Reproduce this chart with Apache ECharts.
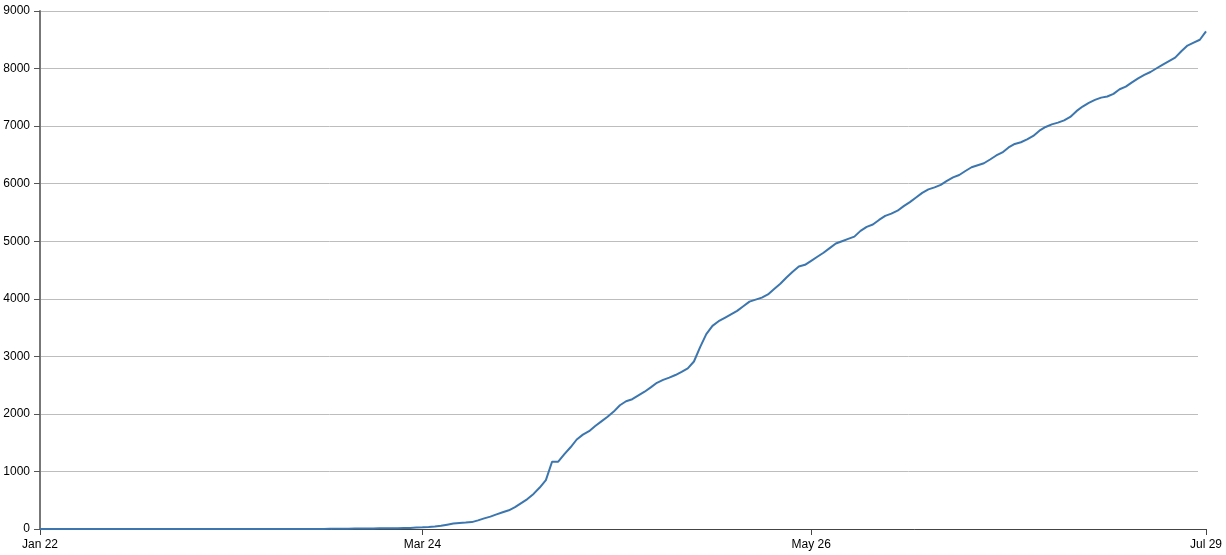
<!DOCTYPE html>
<html>
<head>
<meta charset="utf-8">
<script src="https://cdn.jsdelivr.net/npm/echarts@6/dist/echarts.min.js"></script>
<style>
html,body{margin:0;padding:0;background:#fff;}
#chart{width:1226px;height:555px;}
</style>
</head>
<body>
<div id="chart"></div>
<script>
// Start date of the daily series (day index 0)
const startDate = '2020-01-22';

// Cumulative values, one per day from Jan 22 to Jul 29 (190 days)
const valuesJanFeb = [
  0,0,0,0,0,0,0,0,0,0,   // Jan 22-31
  0,0,0,0,0,0,0,0,0,0,   // Feb 1-10
  0,0,0,0,0,0,0,0,0,0,   // Feb 11-20
  0,0,0,0,0,0,0,0,0      // Feb 21-29
];
const valuesMar = [
  0,0,0,0,0,0,1,2,3,4,5,6,7,8,9,10,11,12,14,15,17,19,24,29,35,42,55,75,95,105,112
];
const valuesApr = [
  120,150,185,215,254,290,325,380,450,520,610,720,850,1168,1170,1300,1420,1555,1640,1700,
  1790,1870,1950,2040,2150,2220,2255,2320,2385,2460
];
const valuesMay = [
  2540,2590,2630,2675,2730,2790,2910,3160,3385,3530,3610,3670,3730,3790,3870,3950,
  3985,4020,4075,4170,4260,4370,4470,4560,4590,4660,4730,4800,4880,4960,5000
];
const valuesJun = [
  5040,5080,5180,5250,5290,5370,5440,5480,5530,5610,5680,5760,5840,5900,5935,5980,
  6050,6110,6150,6220,6285,6320,6355,6420,6490,6543,6630,6690,6720,6770
];
const valuesJul = [
  6830,6920,6985,7030,7060,7100,7160,7260,7340,7405,7455,7495,7515,7560,7640,7685,
  7760,7830,7890,7940,8005,8070,8130,8190,8300,8400,8450,8500,8645
];

// X tick positions (day index) and their labels
const xTickDays = [0, 62, 125, 189];
const xTickLabels = ['Jan 22', 'Mar 24', 'May 26', 'Jul 29'];
// Y ticks
const yTickValues = [0,1000,2000,3000,4000,5000,6000,7000,8000,9000];

const values = [].concat(valuesJanFeb, valuesMar, valuesApr, valuesMay, valuesJun, valuesJul);
const seriesData = values.map((v, i) => [i, v]);

const FONT = '"Liberation Sans", Arial, Helvetica, sans-serif';

const chart = echarts.init(document.getElementById('chart'), null, {renderer: 'canvas'});
chart.setOption({
  animation: false,
  backgroundColor: '#ffffff',
  grid: [
    {left: 40, right: 20, top: 11, bottom: 26, containLabel: false},
    {left: 40, right: 28, top: 11, bottom: 26, containLabel: false}
  ],
  xAxis: [
    {
      type: 'value', gridIndex: 0, min: 0, max: values.length - 1,
      axisLine: {show: true, lineStyle: {color: '#444', width: 1}},
      axisTick: {show: true, length: 6, customValues: xTickDays, lineStyle: {color: '#444'}},
      axisLabel: {
        show: true, customValues: xTickDays, margin: 10,
        color: '#000', fontSize: 12, fontFamily: FONT,
        formatter: function (v) { const k = xTickDays.indexOf(Math.round(v)); return k >= 0 ? xTickLabels[k] : ''; }
      },
      splitLine: {show: false}
    },
    {
      type: 'value', gridIndex: 1, min: 0, max: 1, show: false
    }
  ],
  yAxis: [
    {
      type: 'value', gridIndex: 0, min: 0, max: 9000, interval: 1000,
      axisLine: {show: true, lineStyle: {color: '#777', width: 2}},
      axisTick: {show: true, length: 6, lineStyle: {color: '#555'}},
      axisLabel: {
        show: true, margin: 10, color: '#000', fontSize: 12, fontFamily: FONT,
        formatter: function (v) { return yTickValues.indexOf(v) >= 0 ? String(v) : ''; }
      },
      splitLine: {show: false}
    },
    {
      type: 'value', gridIndex: 1, min: 0, max: 9000, interval: 1000,
      axisLine: {show: false}, axisTick: {show: false}, axisLabel: {show: false},
      splitLine: {show: true, lineStyle: {color: '#bdbdbd', width: 1}},
      z: 0
    }
  ],
  series: [
    {
      type: 'line', xAxisIndex: 0, yAxisIndex: 0,
      data: seriesData,
      showSymbol: false, symbol: 'none',
      lineStyle: {color: '#3b76af', width: 2},
      z: 5
    }
  ]
});
</script>
</body>
</html>
